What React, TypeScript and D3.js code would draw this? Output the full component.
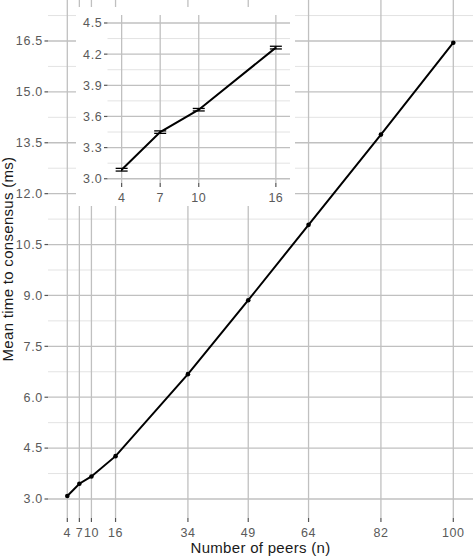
import React from "react";
import * as d3 from "d3";

const peers = [4, 7, 10, 16, 34, 49, 64, 82, 100];
const meanTime = [3.087, 3.449, 3.665, 4.263, 6.68, 8.86, 11.08, 13.74, 16.45];
const yTicks = [3.0, 4.5, 6.0, 7.5, 9.0, 10.5, 12.0, 13.5, 15.0, 16.5];
const yMinor = [3.75, 5.25, 6.75, 8.25, 9.75, 11.25, 12.75, 14.25, 15.75, 17.25];

const insetPeers = [4, 7, 10, 16];
const insetMean = [3.087, 3.449, 3.665, 4.263];
const insetErr = [0.013, 0.012, 0.012, 0.013];
const insetYTicks = [3.0, 3.3, 3.6, 3.9, 4.2, 4.5];
const insetYMinor = [3.15, 3.45, 3.75, 4.05, 4.35];

const W = 474;
const H = 557;
const FONT = "'Liberation Sans', Arial, Helvetica, sans-serif";
const MAJOR = "#c0c0c0";
const MINOR = "#e3e3e3";
const TICK = "#555";
const LABEL = "#5a5a5a";
const TITLE = "#1a1a1a";

export default function App() {
  const pl = 48, pr = 473, pt = 0, pb = 518;
  const x = d3.scaleLinear().domain([-0.8, 104.8]).range([pl, 472.6]);
  const y = d3.scaleLinear().domain([2.44, 17.708]).range([pb, pt]);
  const line = d3.line<number>().x((_, i) => x(peers[i])).y((d) => y(d));

  // inset
  const il = 107.5, ir = 290, it = 15, ib = 183;
  const ix = d3.scaleLinear().domain([2.9, 17.1]).range([il, ir]);
  const iy = d3.scaleLinear().domain([2.959, 4.577]).range([ib, it]);
  const iline = d3.line<number>().x((_, i) => ix(insetPeers[i])).y((d) => iy(d));

  return (
    <svg width={W} height={H} style={{ position: "absolute", left: 0, top: 0, background: "#fff" }} fontFamily={FONT}>
      <rect x={0} y={0} width={W} height={H} fill="#fff" />
      {/* main grid */}
      {yMinor.map((v) => (
        <line key={"ym" + v} x1={pl} x2={pr} y1={y(v)} y2={y(v)} stroke={MINOR} strokeWidth={1} />
      ))}
      {yTicks.map((v) => (
        <line key={"yg" + v} x1={pl} x2={pr} y1={y(v)} y2={y(v)} stroke={MAJOR} strokeWidth={1.3} />
      ))}
      {peers.map((v) => (
        <line key={"xg" + v} x1={x(v)} x2={x(v)} y1={pt} y2={pb} stroke={MAJOR} strokeWidth={1.3} />
      ))}
      <path d={line(meanTime) || ""} fill="none" stroke="#000" strokeWidth={2} />
      {meanTime.map((v, i) => (
        <circle key={"p" + i} cx={x(peers[i])} cy={y(v)} r={2.3} fill="#000" />
      ))}
      {/* main axes */}
      {yTicks.map((v) => (
        <g key={"yt" + v}>
          <line x1={pl - 3.5} x2={pl} y1={y(v)} y2={y(v)} stroke={TICK} strokeWidth={1.2} />
          <text x={pl - 5} y={y(v)} dy="0.35em" textAnchor="end" fontSize={12.5} letterSpacing={0.7} fill={LABEL}>
            {v.toFixed(1)}
          </text>
        </g>
      ))}
      {peers.map((v) => (
        <g key={"xt" + v}>
          <line x1={x(v)} x2={x(v)} y1={pb} y2={pb + 4} stroke={TICK} strokeWidth={1.2} />
          <text x={x(v)} y={pb + 19} textAnchor="middle" fontSize={12.5} letterSpacing={0.5} fill={LABEL}>
            {v}
          </text>
        </g>
      ))}
      <text x={(pl + pr) / 2} y={553} textAnchor="middle" fontSize={15} letterSpacing={0.3} fill={TITLE}>
        Number of peers (n)
      </text>
      <text
        transform={`translate(13, ${(pt + pb) / 2}) rotate(-90)`}
        textAnchor="middle"
        fontSize={15}
        letterSpacing={0.3}
        fill={TITLE}
      >
        Mean time to consensus (ms)
      </text>

      {/* inset */}
      <rect x={76} y={7} width={219} height={199} fill="#fff" />
      {insetYMinor.map((v) => (
        <line key={"iym" + v} x1={il} x2={ir} y1={iy(v)} y2={iy(v)} stroke={MINOR} strokeWidth={1} />
      ))}
      {insetYTicks.map((v) => (
        <line key={"iyg" + v} x1={il} x2={ir} y1={iy(v)} y2={iy(v)} stroke={MAJOR} strokeWidth={1.3} />
      ))}
      {insetPeers.map((v) => (
        <line key={"ixg" + v} x1={ix(v)} x2={ix(v)} y1={it} y2={ib} stroke={MAJOR} strokeWidth={1.3} />
      ))}
      {insetMean.map((v, i) => {
        const cx = ix(insetPeers[i]);
        const lo = iy(v - insetErr[i]);
        const hi = iy(v + insetErr[i]);
        return (
          <g key={"eb" + i} stroke="#000" strokeWidth={1.3}>
            <line x1={cx - 6} x2={cx + 6} y1={lo} y2={lo} />
            <line x1={cx - 6} x2={cx + 6} y1={hi} y2={hi} />
            <line x1={cx} x2={cx} y1={lo} y2={hi} />
          </g>
        );
      })}
      <path d={iline(insetMean) || ""} fill="none" stroke="#000" strokeWidth={2} />
      {insetYTicks.map((v) => (
        <g key={"iyt" + v}>
          <line x1={il - 3.5} x2={il} y1={iy(v)} y2={iy(v)} stroke={TICK} strokeWidth={1.2} />
          <text x={il - 5} y={iy(v)} dy="0.35em" textAnchor="end" fontSize={12.5} letterSpacing={0.7} fill={LABEL}>
            {v.toFixed(1)}
          </text>
        </g>
      ))}
      {insetPeers.map((v) => (
        <g key={"ixt" + v}>
          <line x1={ix(v)} x2={ix(v)} y1={ib} y2={ib + 4} stroke={TICK} strokeWidth={1.2} />
          <text x={ix(v)} y={ib + 19} textAnchor="middle" fontSize={12.5} letterSpacing={0.5} fill={LABEL}>
            {v}
          </text>
        </g>
      ))}
    </svg>
  );
}
